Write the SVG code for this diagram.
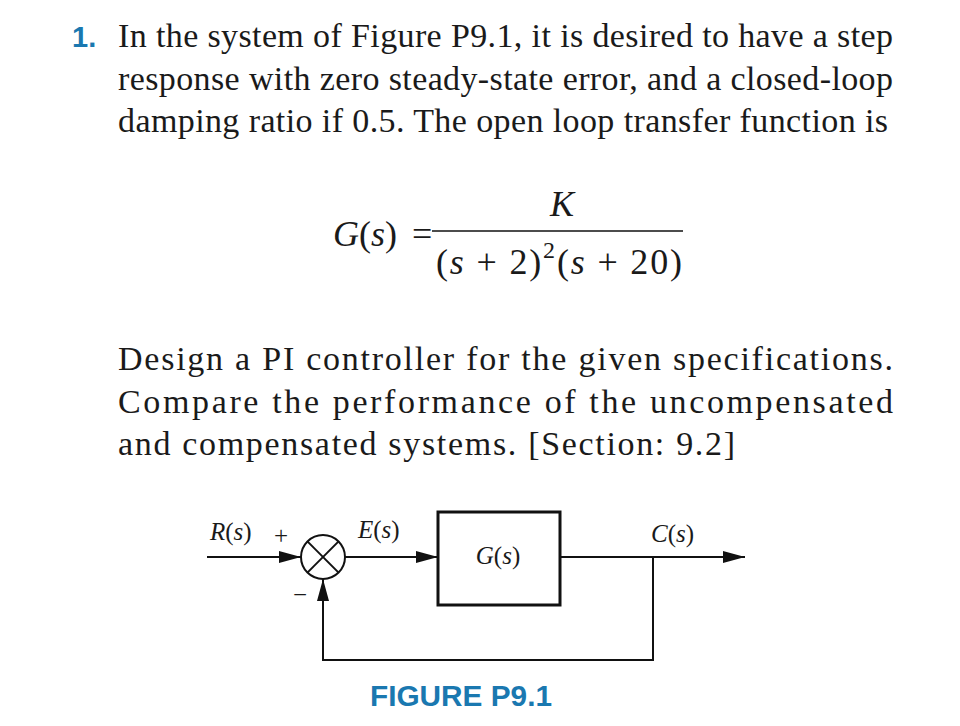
<svg xmlns="http://www.w3.org/2000/svg" width="960" height="726" viewBox="0 0 960 726">
<defs>
<marker id="ah" viewBox="0 0 10 10" refX="10" refY="5" markerWidth="22" markerHeight="12" markerUnits="userSpaceOnUse" orient="auto" preserveAspectRatio="none"><path d="M0,0 L10,5 L0,10 z" fill="#111"/></marker>
<style>
.t{font-family:"Liberation Serif",serif;font-size:34px;fill:#1a1a1a}
.m{font-family:"Liberation Serif",serif;font-size:36px;fill:#1a1a1a}
.d{font-family:"Liberation Serif",serif;font-size:25px;fill:#1a1a1a}
.ln{stroke:#111;stroke-width:2;fill:none}
</style>
</defs>
<rect width="960" height="726" fill="#fff"/>
<text x="72" y="47" font-family="Liberation Sans,sans-serif" font-weight="bold" font-size="29" fill="#1a78b0">1.</text>
<text class="t" x="118" y="47" textLength="775" lengthAdjust="spacing">In the system of Figure P9.1, it is desired to have a step</text>
<text class="t" x="118" y="90" textLength="775" lengthAdjust="spacing">response with zero steady-state error, and a closed-loop</text>
<text class="t" x="118" y="132" textLength="770" lengthAdjust="spacing">damping ratio if 0.5. The open loop transfer function is</text>
<text class="m" x="333" y="246"><tspan font-style="italic">G</tspan>(<tspan font-style="italic">s</tspan>)</text>
<text class="m" x="412" y="246">=</text>
<text class="m" x="562" y="216" text-anchor="middle" font-style="italic">K</text>
<line x1="432" y1="231" x2="683" y2="231" stroke="#111" stroke-width="1.5"/>
<text class="m" x="436" y="274" textLength="246" lengthAdjust="spacing">(<tspan font-style="italic">s</tspan> + 2)<tspan dy="-16" font-size="24">2</tspan><tspan dy="16">(</tspan><tspan font-style="italic">s</tspan> + 20)</text>
<text class="t" x="118" y="370" textLength="775" lengthAdjust="spacing">Design a PI controller for the given specifications.</text>
<text class="t" x="118" y="413" textLength="775" lengthAdjust="spacing">Compare the performance of the uncompensated</text>
<text class="t" x="118" y="455" textLength="617" lengthAdjust="spacing">and compensated systems. [Section: 9.2]</text>
<g id="connectors">
<line class="ln" x1="207" y1="557" x2="301" y2="557" marker-end="url(#ah)"/>
<line class="ln" x1="345" y1="557" x2="438" y2="557" marker-end="url(#ah)"/>
<line class="ln" x1="560" y1="557" x2="745" y2="557" marker-end="url(#ah)"/>
<polyline class="ln" points="653,557 653,660 323,660 323,579" marker-end="url(#ah)"/>
</g>
<g id="sum">
<circle cx="323" cy="557" r="22" fill="#fff" stroke="#111" stroke-width="2"/>
<line class="ln" x1="307.4" y1="541.4" x2="338.6" y2="572.6"/>
<line class="ln" x1="338.6" y1="541.4" x2="307.4" y2="572.6"/>
<text class="d" x="274" y="544">+</text>
<text class="d" x="293" y="603">−</text>
</g>
<g id="plant">
<rect x="438" y="512" width="122" height="93" fill="#fff" stroke="#111" stroke-width="3"/>
<text class="d" x="498" y="564" text-anchor="middle"><tspan font-style="italic">G</tspan>(<tspan font-style="italic">s</tspan>)</text>
</g>
<text class="d" x="210" y="540"><tspan font-style="italic">R</tspan>(<tspan font-style="italic">s</tspan>)</text>
<text class="d" x="358" y="538"><tspan font-style="italic">E</tspan>(<tspan font-style="italic">s</tspan>)</text>
<text class="d" x="651" y="542"><tspan font-style="italic">C</tspan>(<tspan font-style="italic">s</tspan>)</text>
<text x="370" y="706" textLength="182" lengthAdjust="spacingAndGlyphs" font-family="Liberation Sans,sans-serif" font-weight="bold" font-size="29" fill="#1a78b0">FIGURE P9.1</text>
</svg>
